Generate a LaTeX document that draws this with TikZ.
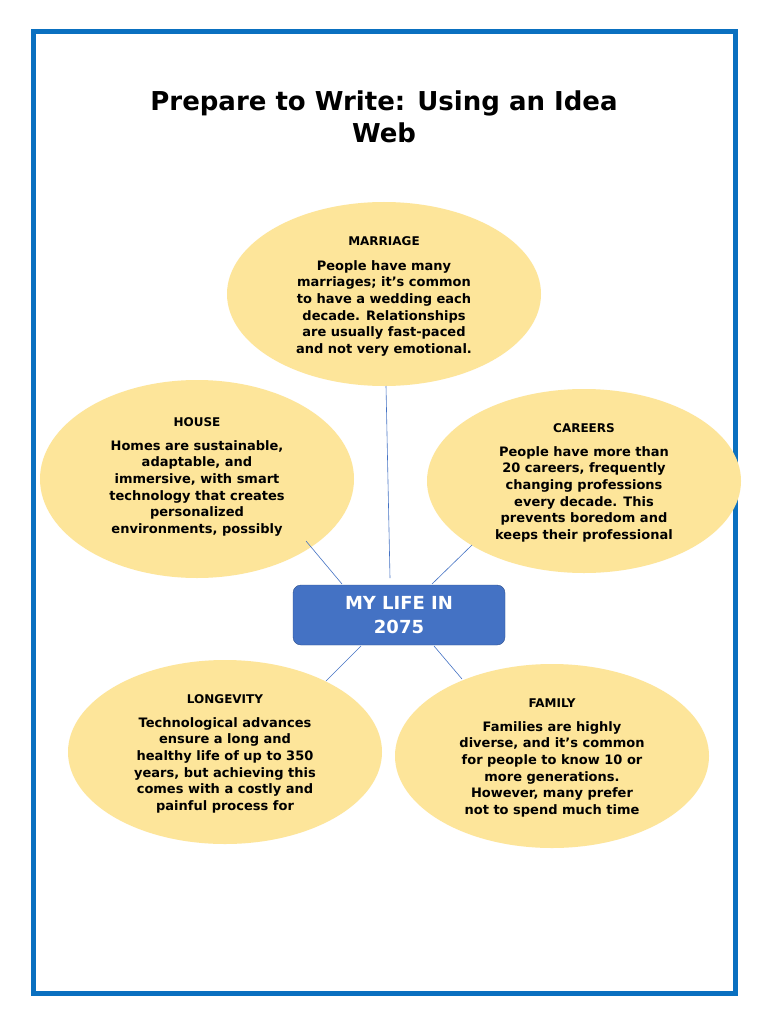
\documentclass[tikz,border=0pt]{standalone}
\usepackage{fontspec}
\setmainfont{DejaVu Sans}
\usetikzlibrary{shapes.geometric}
\definecolor{frameblue}{HTML}{0A70C0}
\definecolor{bubble}{HTML}{FDE59A}
\definecolor{hubblue}{HTML}{4472C4}
\definecolor{hubedge}{HTML}{2F528F}
\tikzset{
  bub/.style={ellipse,fill=bubble,draw=none,minimum width=314pt,minimum height=184pt,inner sep=0pt},
  btxt/.style={align=center,font=\bfseries\fontsize{13}{16.7}\selectfont,anchor=north,inner sep=0pt},
  ttl/.style={font=\bfseries\fontsize{12}{14}\selectfont,inner sep=0pt},
  link/.style={draw=hubblue,line width=0.6pt}
}
\begin{document}
\begin{tikzpicture}[x=1pt,y=-1pt]
\useasboundingbox (0,0) rectangle (768,1024);
\fill[white] (0,0) rectangle (768,1024);
\draw[frameblue,line width=5pt] (33,32) rectangle (735,993);
\node[font=\bfseries\fontsize{26}{32}\selectfont,align=center] (title) at (384,117) {Prepare to Write: Using an Idea\\Web};

\node[bub] (marriage) at (384,294) {};
\node[bub,minimum height=198pt] (house) at (197,479) {};
\node[bub] (careers) at (584,481) {};
\node[bub] (longevity) at (225,752) {};
\node[bub] (family) at (552,756) {};

\node[ttl] (tm) at (384,241) {MARRIAGE};
\node[ttl] (th) at (197,422) {HOUSE};
\node[ttl] (tc) at (584,428) {CAREERS};
\node[ttl] (tl) at (225,699) {LONGEVITY};
\node[ttl] (tf) at (552,703) {FAMILY};

\begin{scope}
\clip (200,250) rectangle (570,356);
\node[btxt] (bm) at (384,260) {People have many\\marriages; it’s common\\to have a wedding each\\decade. Relationships\\are usually fast-paced\\and not very emotional.};
\end{scope}
\node[btxt] (bh) at (197,440) {Homes are sustainable,\\adaptable, and\\immersive, with smart\\technology that creates\\personalized\\environments, possibly};
\begin{scope}
\clip (420,440) rectangle (750,544);
\node[btxt] (bc) at (584,446) {People have more than\\20 careers, frequently\\changing professions\\every decade. This\\prevents boredom and\\keeps their professional};
\end{scope}
\begin{scope}
\clip (60,710) rectangle (390,814);
\node[btxt] (bl) at (225,717) {Technological advances\\ensure a long and\\healthy life of up to 350\\years, but achieving this\\comes with a costly and\\painful process for};
\end{scope}
\begin{scope}
\clip (390,715) rectangle (720,818);
\node[btxt] (bf) at (552,721) {Families are highly\\diverse, and it’s common\\for people to know 10 or\\more generations.\\However, many prefer\\not to spend much time};
\end{scope}

\node[draw=hubedge,fill=hubblue,rounded corners=8pt,minimum width=212pt,minimum height=60pt,align=center,text=white,font=\bfseries\fontsize{18}{24}\selectfont,inner sep=0pt] (hub) at (399,615) {MY LIFE IN\\2075};

\coordinate (m1) at (386,386); \coordinate (m2) at (390,578);
\coordinate (h1) at (306,541); \coordinate (h2) at (342,584);
\coordinate (c1) at (472,545); \coordinate (c2) at (432,584);
\coordinate (l1) at (361,646); \coordinate (l2) at (326,681);
\coordinate (f1) at (434,646); \coordinate (f2) at (462,679);
\draw[link] (m1) -- (m2);
\draw[link] (h1) -- (h2);
\draw[link] (c1) -- (c2);
\draw[link] (l1) -- (l2);
\draw[link] (f1) -- (f2);
\end{tikzpicture}
\end{document}
